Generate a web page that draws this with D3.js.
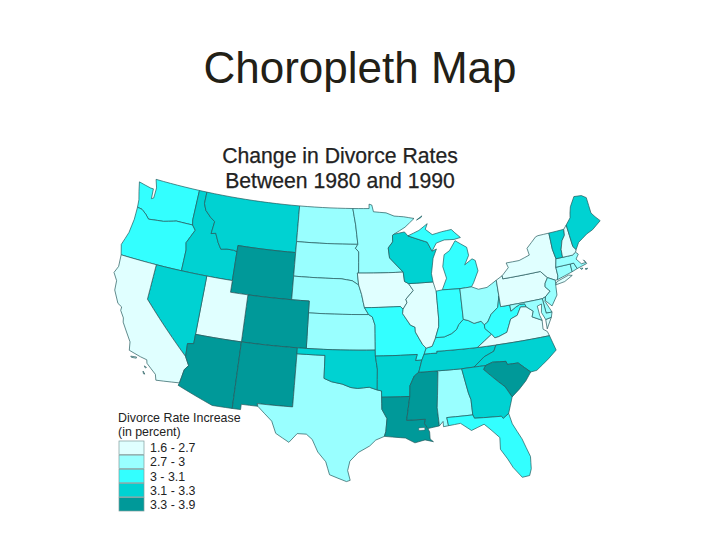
<!DOCTYPE html>
<html>
<head>
<meta charset="utf-8">
<style>
  html, body { margin: 0; background: #fff; }
  text { font-family: "Liberation Sans", Arial, sans-serif; }
</style>
</head>
<body>
<svg id="chart" width="720" height="540"></svg>
<script src="https://cdn.jsdelivr.net/npm/d3@7"></script>
<script>
const legendLabels = ["1.6 - 2.7", "2.7 - 3", "3 - 3.1", "3.1 - 3.3", "3.3 - 3.9"];
const legendColors = ["#e0ffff", "#99ffff", "#33ffff", "#00d2d2", "#009999"];

// states by legend class
const class0 = ["CA", "UT", "IA", "IL", "NY", "PA", "VA", "NH"];
const class1 = ["ND", "SD", "NE", "KS", "MN", "TX", "AL", "OH", "NJ", "MD", "DE", "CT", "RI", "MA"];
const class2 = ["WA", "OR", "MO", "MI", "IN", "KY", "WV", "FL"];
const class3 = ["ID", "MT", "NV", "WI", "OK", "AR", "TN", "NC", "GA", "VT", "ME"];
const class4 = ["WY", "CO", "AZ", "NM", "LA", "MS", "SC"];
const stateClasses = [class0, class1, class2, class3, class4];

// outlines in lon/lat, simplified by hand
const WA = [[[-124.7,48.38],[-123.1,48.15],[-122.75,48.15],[-122.65,47.3],[-122.4,47.4],[-122.4,48.3],[-122.76,49],[-117.03,49],[-117.04,46.42],[-116.92,45.99],[-118.98,46],[-119.3,45.93],[-120.5,45.7],[-121.2,45.65],[-122.3,45.55],[-122.8,45.9],[-123.4,46.2],[-124,46.26],[-124.1,46.9],[-124.4,47.6]]];
const OR = [[[-124,46.26],[-123.4,46.2],[-122.8,45.9],[-122.3,45.55],[-121.2,45.65],[-120.5,45.7],[-119.3,45.93],[-118.98,46],[-116.92,45.99],[-116.47,45.6],[-116.85,45],[-117.22,44.4],[-117.03,43.8],[-117.03,42],[-120,42],[-124.21,42],[-124.55,42.84],[-124.1,44],[-123.95,45.2]]];
const ID = [[[-117.03,49],[-116.05,49],[-116.05,48],[-115.7,47.45],[-114.95,46.95],[-114.35,46.65],[-114.5,45.6],[-113.95,45.7],[-113.45,44.95],[-113,44.45],[-112.3,44.55],[-111.5,44.55],[-111.05,44.48],[-111.05,42],[-114.04,42],[-117.03,42],[-117.03,43.8],[-117.22,44.4],[-116.85,45],[-116.47,45.6],[-116.92,45.99],[-117.04,46.42]]];
const MT = [[[-116.05,49],[-104.05,49],[-104.05,45.94],[-104.05,45],[-111.05,45],[-111.05,44.48],[-111.5,44.55],[-112.3,44.55],[-113,44.45],[-113.45,44.95],[-113.95,45.7],[-114.5,45.6],[-114.35,46.65],[-114.95,46.95],[-115.7,47.45],[-116.05,48]]];
const WY = [[[-111.05,45],[-104.05,45],[-104.05,43],[-104.05,41],[-109.05,41],[-111.05,41],[-111.05,42],[-111.05,44.48]]];
const ND = [[[-104.05,49],[-97.23,49],[-96.85,47.6],[-96.56,45.94],[-104.05,45.94]]];
const SD = [[[-104.05,45.94],[-96.56,45.94],[-96.85,45.6],[-96.45,45.3],[-96.45,43.5],[-96.6,43.5],[-96.44,42.49],[-97.2,42.85],[-98.5,43],[-104.05,43],[-104.05,45]]];
const NE = [[[-104.05,43],[-98.5,43],[-97.2,42.85],[-96.44,42.49],[-96.1,41.7],[-95.9,41],[-95.77,40.58],[-95.31,40],[-102.05,40],[-102.05,41],[-104.05,41]]];
const KS = [[[-102.05,40],[-95.31,40],[-94.9,39.8],[-94.61,39.1],[-94.62,37],[-102.04,37]]];
const CO = [[[-109.05,41],[-104.05,41],[-102.05,41],[-102.05,40],[-102.04,37],[-103,37],[-109.05,37]]];
const UT = [[[-114.04,42],[-111.05,42],[-111.05,41],[-109.05,41],[-109.05,37],[-114.05,37]]];
const NV = [[[-120,42],[-117.03,42],[-114.04,42],[-114.05,37],[-114.05,36.2],[-114.7,36.1],[-114.63,35],[-120,39]]];
const CA = [[[-124.21,42],[-120,42],[-120,39],[-114.63,35],[-114.14,34.3],[-114.5,33.9],[-114.72,32.72],[-117.12,32.53],[-117.3,33],[-118.4,33.75],[-118.5,34.03],[-119.2,34.15],[-120.5,34.45],[-120.65,35.15],[-121.9,36.6],[-122,36.95],[-122.5,37.5],[-122.5,37.8],[-123,38],[-123.75,39],[-123.85,39.8],[-124.4,40.4],[-124.1,41]],
  [[-120.2,34],[-119.6,34.05],[-119.6,33.95],[-120.1,33.92]], [[-118.6,33.48],[-118.35,33.4],[-118.45,33.33]], [[-118.6,33.03],[-118.35,32.82],[-118.5,32.82]]];
const AZ = [[[-114.05,37],[-109.05,37],[-109.05,31.33],[-111.07,31.33],[-114.81,32.5],[-114.72,32.72],[-114.5,33.9],[-114.14,34.3],[-114.63,35],[-114.7,36.1],[-114.05,36.2]]];
const NM = [[[-109.05,37],[-103,37],[-103,36.5],[-103.04,32],[-106.62,32],[-106.53,31.78],[-108.21,31.78],[-108.21,31.33],[-109.05,31.33]]];
const TX = [[[-103,36.5],[-100,36.5],[-100,34.56],[-99.2,34.3],[-98.1,34.13],[-97.2,33.85],[-96.5,33.78],[-95.3,33.88],[-94.48,33.64],[-94.04,33.55],[-94.04,33.02],[-94.04,32],[-93.55,31.2],[-93.7,30.1],[-93.85,29.7],[-94.7,29.4],[-95.3,28.9],[-96.4,28.35],[-97.2,27.6],[-97.4,26.8],[-97.15,25.96],[-97.5,25.85],[-99.1,26.4],[-99.5,27.5],[-100.3,28.3],[-100.9,29.35],[-101.5,29.77],[-102.4,29.77],[-103.15,28.98],[-104.5,29.65],[-105,30.65],[-106.53,31.78],[-106.62,32],[-103.04,32]]];
const OK = [[[-103,37],[-102.04,37],[-94.62,37],[-94.62,36.5],[-94.43,35.4],[-94.48,33.64],[-95.3,33.88],[-96.5,33.78],[-97.2,33.85],[-98.1,34.13],[-99.2,34.3],[-100,34.56],[-100,36.5],[-103,36.5]]];
const MN = [[[-97.23,49],[-95.15,49],[-95.15,49.38],[-94.8,49.3],[-94.6,48.72],[-93,48.6],[-92,48.3],[-90.8,48.2],[-89.5,48],[-90.7,47.3],[-92.1,46.75],[-92.29,46.66],[-92.3,46.1],[-92.87,45.6],[-92.75,44.75],[-91.2,43.5],[-96.45,43.5],[-96.45,45.3],[-96.85,45.6],[-96.56,45.94],[-96.85,47.6]]];
const IA = [[[-96.6,43.5],[-96.45,43.5],[-91.2,43.5],[-91.1,42.7],[-90.64,42.5],[-90.15,41.9],[-91.05,41.2],[-90.95,40.9],[-91.42,40.38],[-91.73,40.61],[-95.77,40.58],[-95.9,41],[-96.1,41.7],[-96.44,42.49]]];
const MO = [[[-95.77,40.58],[-91.73,40.61],[-91.42,40.38],[-91.5,40],[-90.7,39],[-90.2,38.8],[-90.2,38.4],[-89.5,37.3],[-89.15,36.98],[-89.4,36.5],[-89.7,36],[-90.37,36],[-90.15,36.5],[-94.62,36.5],[-94.62,37],[-94.61,39.1],[-94.9,39.8],[-95.31,40]]];
const AR = [[[-94.62,36.5],[-90.15,36.5],[-90.37,36],[-89.7,36],[-90.1,35],[-90.6,34.7],[-91.1,33.9],[-91.17,33],[-94.04,33.02],[-94.04,33.55],[-94.48,33.64],[-94.43,35.4]]];
const LA = [[[-94.04,33.02],[-91.17,33],[-91.6,31],[-89.73,31],[-89.85,30.65],[-89.55,30.2],[-89.4,29.9],[-89.4,29.3],[-89.1,29.05],[-89.9,29.25],[-90.9,29.05],[-91.8,29.5],[-92.3,29.55],[-93.85,29.7],[-93.7,30.1],[-93.55,31.2],[-94.04,32]]];
const MS = [[[-91.17,33],[-91.1,33.9],[-90.6,34.7],[-90.1,35],[-88.2,35],[-88.1,34.9],[-88.47,31.9],[-88.4,30.35],[-89.55,30.2],[-89.85,30.65],[-89.73,31],[-91.6,31]]];
const AL = [[[-88.2,35],[-85.6,34.98],[-85.18,32.87],[-85,32.3],[-85,31],[-87.6,31],[-87.5,30.3],[-88,30.25],[-88,30.7],[-88.4,30.35],[-88.47,31.9],[-88.1,34.9]]];
const TN = [[[-90.1,35],[-89.7,36],[-89.4,36.5],[-88.05,36.5],[-88.05,36.65],[-83.68,36.6],[-81.68,36.59],[-82,36.1],[-83.1,35.75],[-84.3,35],[-85.6,34.98],[-88.2,35]]];
const KY = [[[-89.4,36.5],[-89.15,36.98],[-88.5,37.1],[-88.05,37.8],[-87.1,37.8],[-86.3,38],[-85.7,38.3],[-85.4,38.7],[-84.82,39.1],[-84.3,38.95],[-83.7,38.65],[-82.9,38.75],[-82.6,38.42],[-82.6,38.1],[-81.97,37.54],[-83.68,36.6],[-88.05,36.65],[-88.05,36.5]]];
const IL = [[[-90.64,42.5],[-87.8,42.5],[-87.6,41.85],[-87.53,41.7],[-87.53,39.35],[-87.6,38.7],[-88.05,37.8],[-88.5,37.1],[-89.15,36.98],[-89.5,37.3],[-90.2,38.4],[-90.2,38.8],[-90.7,39],[-91.5,40],[-91.42,40.38],[-90.95,40.9],[-91.05,41.2],[-90.15,41.9]]];
const WI = [[[-92.29,46.66],[-92.1,46.75],[-90.8,46.9],[-90.4,46.55],[-88.1,45.9],[-87.6,45.1],[-87.05,45.25],[-87.55,44.5],[-87.9,43.2],[-87.8,42.5],[-90.64,42.5],[-91.1,42.7],[-91.2,43.5],[-92.75,44.75],[-92.87,45.6],[-92.3,46.1]]];
const MI = [[[-86.82,41.76],[-84.8,41.7],[-83.45,41.73],[-83.15,42.05],[-82.45,43],[-82.6,43.9],[-82.95,44.07],[-83.9,43.65],[-83.3,44.4],[-83.4,45.1],[-84.7,45.78],[-85.5,45],[-86.2,44.7],[-86.5,43.7],[-86.2,42.7]],
  [[-90.4,46.55],[-88.1,45.9],[-87.6,45.1],[-87,45.75],[-86,45.95],[-84.8,45.9],[-84,46],[-84.6,46.45],[-85,46.77],[-86.2,46.67],[-87.4,46.5],[-88.2,47],[-87.9,47.47],[-89,46.95]],
  [[-89.2,47.85],[-88.5,48.17],[-88.6,48.05]]];
const IN = [[[-87.53,41.7],[-86.82,41.76],[-84.8,41.7],[-84.82,39.1],[-85.4,38.7],[-85.7,38.3],[-86.3,38],[-87.1,37.8],[-88.05,37.8],[-87.6,38.7],[-87.53,39.35]]];
const OH = [[[-84.8,41.7],[-83.45,41.73],[-82.7,41.45],[-81.7,41.5],[-80.52,41.98],[-80.52,40.64],[-80.85,39.7],[-81.7,39.2],[-82.2,38.6],[-82.6,38.42],[-82.9,38.75],[-83.7,38.65],[-84.3,38.95],[-84.82,39.1]]];
const WV = [[[-80.52,40.64],[-80.52,39.72],[-79.48,39.72],[-79.48,39.2],[-78.9,39.45],[-78.4,39.62],[-77.83,39.6],[-77.72,39.32],[-78.35,39.4],[-78.87,38.76],[-79.65,38.55],[-80.3,37.5],[-81.25,37.25],[-81.68,37.2],[-81.97,37.54],[-82.6,38.1],[-82.6,38.42],[-82.2,38.6],[-81.7,39.2],[-80.85,39.7]]];
const VA = [[[-83.68,36.6],[-81.97,37.54],[-81.68,37.2],[-81.25,37.25],[-80.3,37.5],[-79.65,38.55],[-78.87,38.76],[-78.35,39.4],[-77.72,39.32],[-77.05,38.85],[-77.3,38.4],[-76.3,37.95],[-76.4,37.2],[-76,36.93],[-75.87,36.55],[-81.68,36.59]],
  [[-75.25,38.03],[-75.9,37.95],[-75.95,37.15],[-75.6,37.6]]];
const NC = [[[-84.3,35],[-83.1,35.75],[-82,36.1],[-81.68,36.59],[-75.87,36.55],[-75.5,35.25],[-76.5,34.65],[-77.9,33.9],[-78.55,33.86],[-79.67,34.8],[-80.8,34.82],[-80.9,35.1],[-82.3,35.2],[-83.1,35]]];
const SC = [[[-83.1,35],[-82.3,35.2],[-80.9,35.1],[-80.8,34.82],[-79.67,34.8],[-78.55,33.86],[-79.2,33.2],[-80,32.6],[-80.85,32.05],[-81.4,33],[-82,33.5],[-83.35,34.7]]];
const GA = [[[-85.6,34.98],[-84.3,35],[-83.1,35],[-83.35,34.7],[-82,33.5],[-81.4,33],[-80.85,32.05],[-81.45,30.72],[-82.05,30.36],[-82.2,30.57],[-84.87,30.7],[-85,31],[-85,32.3],[-85.18,32.87]]];
const FL = [[[-87.6,31],[-85,31],[-84.87,30.7],[-82.2,30.57],[-82.05,30.36],[-81.45,30.72],[-81.25,29.8],[-80.55,28.4],[-80.03,26.8],[-80.15,25.75],[-80.4,25.2],[-81.1,25.15],[-81.8,26.1],[-82.2,26.9],[-82.75,27.8],[-82.65,28.8],[-83.4,29.55],[-84,30.1],[-85.3,29.7],[-86.3,30.4],[-87.5,30.3]]];
const PA = [[[-80.52,41.98],[-79.76,42.27],[-79.76,42],[-75.35,42],[-74.7,41.36],[-75.1,40.95],[-75.2,40.65],[-74.75,40.2],[-75.4,39.82],[-75.79,39.72],[-79.48,39.72],[-80.52,39.72],[-80.52,40.64]]];
const NY = [[[-79.76,42.27],[-78.9,42.85],[-79.05,43.27],[-77.5,43.27],[-76.2,43.55],[-76.3,44.15],[-75,44.95],[-74.7,45],[-73.35,45],[-73.4,43.6],[-73.25,42.75],[-73.5,42.05],[-73.5,41.3],[-73.65,41],[-73.9,41],[-74.7,41.36],[-75.35,42],[-79.76,42]],
  [[-74.03,40.6],[-73.75,40.85],[-72.3,41.15],[-71.9,41.05],[-72.9,40.7]]];
const NJ = [[[-74.7,41.36],[-73.9,41],[-74,40.45],[-74.1,39.75],[-74.9,38.95],[-75.5,39.5],[-75.4,39.82],[-74.75,40.2],[-75.2,40.65],[-75.1,40.95]]];
const DE = [[[-75.79,39.72],[-75.4,39.82],[-75.55,39.45],[-75.05,38.45],[-75.7,38.46]]];
const MD = [[[-79.48,39.72],[-75.79,39.72],[-75.7,38.46],[-75.05,38.45],[-75.25,38.03],[-75.9,37.95],[-76.2,38.6],[-76,39.3],[-76.5,39.2],[-76.45,38.4],[-76.3,37.95],[-77.3,38.4],[-77.05,38.85],[-77.72,39.32],[-77.83,39.6],[-78.4,39.62],[-78.9,39.45],[-79.48,39.2]]];
const CT = [[[-73.5,42.05],[-71.8,42.02],[-71.8,41.35],[-73.65,41],[-73.5,41.3]]];
const RI = [[[-71.8,42.02],[-71.38,42.02],[-71.15,41.5],[-71.8,41.35]]];
const MA = [[[-73.25,42.75],[-72.46,42.73],[-71.3,42.7],[-70.85,42.87],[-70.6,42.65],[-71,42.3],[-70.55,41.8],[-70,41.8],[-70.2,42.07],[-69.95,41.7],[-71.15,41.5],[-71.38,42.02],[-71.8,42.02],[-73.5,42.05]],
  [[-70.3,41.3],[-70,41.3],[-70.1,41.22]], [[-70.8,41.45],[-70.5,41.4],[-70.7,41.33]]];
const VT = [[[-73.35,45],[-71.5,45],[-71.6,44.5],[-72.05,44.1],[-72.4,43.4],[-72.46,42.73],[-73.25,42.75],[-73.4,43.6]]];
const NH = [[[-71.5,45],[-71.08,45.3],[-70.98,43.4],[-70.7,43.07],[-70.85,42.87],[-71.3,42.7],[-72.46,42.73],[-72.4,43.4],[-72.05,44.1],[-71.6,44.5]]];
const ME = [[[-71.08,45.3],[-70.4,45.8],[-70.25,46.2],[-70,46.7],[-69.23,47.46],[-68.3,47.36],[-67.79,47.07],[-67.79,45.7],[-67.45,45.3],[-67,44.85],[-68.2,44.3],[-69,44.1],[-70.2,43.6],[-70.7,43.07],[-70.98,43.4]]];

// Lake Pontchartrain, left white inside Louisiana
const lakes = [[[-90.45,30.3],[-89.85,30.3],[-89.85,30.08],[-90.45,30.08]]];

const stateShapes = { WA, OR, ID, MT, WY, ND, SD, NE, KS, CO, UT, NV, CA, AZ, NM, TX, OK, MN, IA, MO, AR, LA, MS, AL, TN, KY, IL, WI, MI, IN, OH, WV, VA, NC, SC, GA, FL, PA, NY, NJ, DE, MD, CT, RI, MA, VT, NH, ME };

const svg = d3.select("#chart");

const projection = d3.geoAlbers().scale(674).translate([357, 330]);
const path = d3.geoPath(projection);

const color = d3.scaleOrdinal().domain(legendLabels).range(legendColors);

function classOf(id) {
    return legendLabels[stateClasses.findIndex(c => c.includes(id))];
}

// Break long edges so parallels stay parallels once projected
function densify(ring) {
    const out = [];
    ring.forEach((p, i) => {
        const q = ring[(i + 1) % ring.length];
        const n = Math.max(Math.ceil(Math.max(Math.abs(q[0] - p[0]), Math.abs(q[1] - p[1]))), 1);
        for (let k = 0; k < n; k++) {
            out.push([p[0] + (q[0] - p[0]) * k / n, p[1] + (q[1] - p[1]) * k / n]);
        }
    });
    out.push(out[0]);
    return out;
}

function toMultiPolygon(rings) {
    const polygons = rings.map(ring => {
        const r = densify(ring);
        // d3 wants clockwise rings
        if (d3.geoArea({ type: "Polygon", coordinates: [r] }) > 2 * Math.PI) r.reverse();
        return [r];
    });
    return { type: "MultiPolygon", coordinates: polygons };
}

const features = Object.keys(stateShapes).map(id => ({
    type: "Feature",
    id: id,
    geometry: toMultiPolygon(stateShapes[id])
}));

svg.append("g")
    .selectAll("path")
    .data(features)
    .join("path")
    .attr("d", path)
    .attr("fill", d => color(classOf(d.id)))
    .attr("stroke", "#24595c")
    .attr("stroke-width", 0.7)
    .attr("stroke-linejoin", "round");

svg.append("path")
    .attr("d", path(toMultiPolygon(lakes)))
    .attr("fill", "#fff")
    .attr("stroke", "#24595c")
    .attr("stroke-width", 0.5);

// Titles
svg.append("text")
    .attr("x", 360).attr("y", 83)
    .attr("text-anchor", "middle")
    .attr("font-size", 44)
    .attr("fill", "#222016")
    .text("Choropleth Map");

svg.append("g")
    .attr("text-anchor", "middle")
    .attr("font-size", 21.2)
    .attr("fill", "#222")
    .attr("stroke", "#222")
    .attr("stroke-width", 0.25)
    .selectAll("text")
    .data(["Change in Divorce Rates", "Between 1980 and 1990"])
    .join("text")
    .attr("x", 340)
    .attr("y", (d, i) => 163 + i * 25)
    .text(d => d);

// Legend
const legend = svg.append("g");

legend.selectAll("text.head")
    .data(["Divorce Rate Increase", "(in percent)"])
    .join("text")
    .attr("class", "head")
    .attr("x", 118)
    .attr("y", (d, i) => 422 + i * 14)
    .attr("font-size", 12.4)
    .attr("fill", "#222")
    .text(d => d);

const legendY = d3.scaleBand().domain(legendLabels).range([441, 511]).paddingInner(0.05);

legend.selectAll("rect")
    .data(legendLabels)
    .join("rect")
    .attr("x", 119)
    .attr("y", d => legendY(d))
    .attr("width", 25)
    .attr("height", legendY.bandwidth())
    .attr("fill", d => color(d))
    .attr("stroke", "#7f9c9c")
    .attr("stroke-width", 0.7);

legend.selectAll("text.item")
    .data(legendLabels)
    .join("text")
    .attr("class", "item")
    .attr("x", 150)
    .attr("y", d => legendY(d) + legendY.bandwidth() / 2 + 4.5)
    .attr("font-size", 12.4)
    .attr("fill", "#222")
    .text(d => d);
</script>
</body>
</html>
